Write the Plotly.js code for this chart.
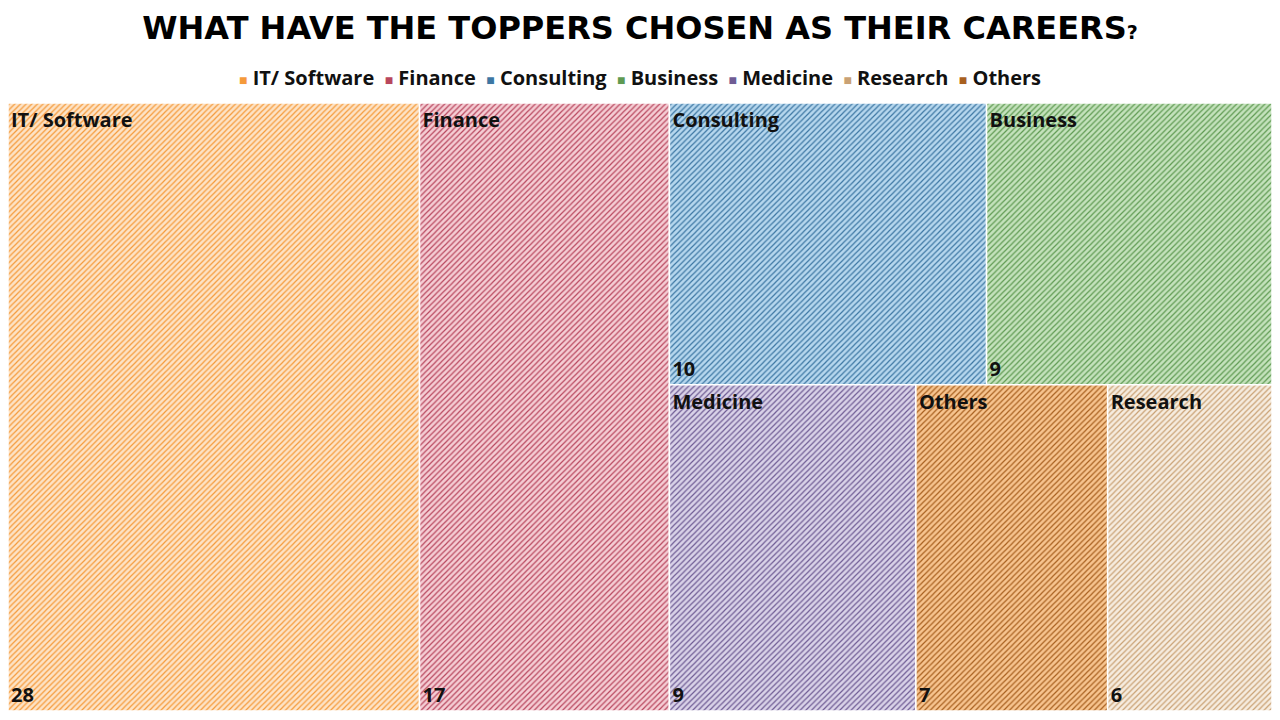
<!DOCTYPE html>
<html>
<head>
<meta charset="utf-8">
<script src="https://cdn.plot.ly/plotly-3.0.1.min.js"></script>
<style>
  html, body { margin: 0; padding: 0; background: #ffffff; }
  #chart { width: 1280px; height: 720px; }
</style>
</head>
<body>
<div id="chart"></div>
<script>
// Career counts, in legend order
const categories = ["IT/ Software", "Finance", "Consulting", "Business", "Medicine", "Research", "Others"];
const counts = [28, 17, 10, 9, 9, 6, 7];
// which block of the treemap each career sits in
const blocks = ["main", "main", "top", "top", "bottom", "bottom", "bottom"];

const stripeColors = ["#f59a3a", "#b8475e", "#3d77a3", "#5f9a52", "#6f5c94", "#c9a174", "#a8601f"];
const fillColors = ["#fde3c6", "#f5cdd4", "#b6d7ee", "#c4e2bc", "#d9d2e8", "#f6ecdf", "#f7c48f"];

// order tiles by value (largest first), keep legend order for ties
const order = categories.map((c, i) => i).sort((a, b) => counts[b] - counts[a]);

const ids = ["root"], parents = [""], labels = [""], values = [0];
const nameText = [""], valueText = [""];
const colors = ["rgba(0,0,0,0)"], fg = ["rgba(0,0,0,0)"], shapes = [""], lineW = [0];

function addGroup(id, parent) {
  ids.push(id); parents.push(parent); labels.push(""); values.push(0);
  nameText.push(""); valueText.push("");
  colors.push("rgba(0,0,0,0)"); fg.push("rgba(0,0,0,0)"); shapes.push(""); lineW.push(0);
}
function addLeaf(i, parent) {
  ids.push(categories[i]); parents.push(parent); labels.push(categories[i]); values.push(counts[i]);
  nameText.push(categories[i]); valueText.push(String(counts[i]));
  colors.push(fillColors[i]); fg.push(stripeColors[i]); shapes.push("/"); lineW.push(1.5);
}

order.filter(i => blocks[i] === "main").forEach(i => addLeaf(i, "root"));
addGroup("rest", "root");
addGroup("top", "rest");
addGroup("bottom", "rest");
order.filter(i => blocks[i] !== "main").forEach(i => addLeaf(i, blocks[i]));

const textFont = { family: "Open Sans, sans-serif", size: 20, color: "#111111", weight: 700 };

const common = {
  type: "treemap",
  ids: ids,
  parents: parents,
  labels: labels,
  values: values,
  sort: false,
  branchvalues: "remainder",
  tiling: { packing: "slice-dice", pad: 0 },
  pathbar: { visible: false },
  textinfo: "text",
  textfont: textFont,
  insidetextfont: textFont,
  hoverinfo: "label+value"
};

const tiles = Object.assign({}, common, {
  text: nameText,
  textposition: "top left",
  marker: {
    colors: colors,
    pad: { t: 0, l: 0, r: 0, b: 0 },
    line: { color: "#ffffff", width: lineW },
    pattern: { shape: shapes, fgcolor: fg, bgcolor: colors, size: 4, solidity: 0.3 }
  }
});

const numbers = Object.assign({}, common, {
  text: valueText,
  textposition: "bottom left",
  marker: {
    colors: ids.map(() => "rgba(0,0,0,0)"),
    pad: { t: 0, l: 0, r: 0, b: 0 },
    line: { width: 0 }
  }
});

// legend line drawn as text: small coloured square + name
const legendText = categories.map((c, i) =>
  "<span style='font-size:14px;color:" + stripeColors[i] + "'>■</span> " + c
).join("  ");

const layout = {
  width: 1280,
  height: 720,
  paper_bgcolor: "#ffffff",
  margin: { l: 8, r: 8, t: 103, b: 9 },
  title: {
    text: "WHAT HAVE THE TOPPERS CHOSEN AS THEIR CAREERS<span style='font-size:19px'>?</span>",
    font: { family: "DejaVu Sans, sans-serif", size: 32, color: "#000000", weight: 700 },
    x: 0.5, xanchor: "center",
    yref: "container", y: 0.962, yanchor: "middle"
  },
  annotations: [{
    text: legendText,
    xref: "paper", yref: "paper",
    x: 0.5, y: 1, yshift: 26,
    xanchor: "center", yanchor: "middle",
    showarrow: false,
    font: { family: "Open Sans, sans-serif", size: 20, color: "#111111", weight: 700 }
  }]
};

Plotly.newPlot("chart", [tiles, numbers], layout, { displayModeBar: false });
</script>
</body>
</html>
